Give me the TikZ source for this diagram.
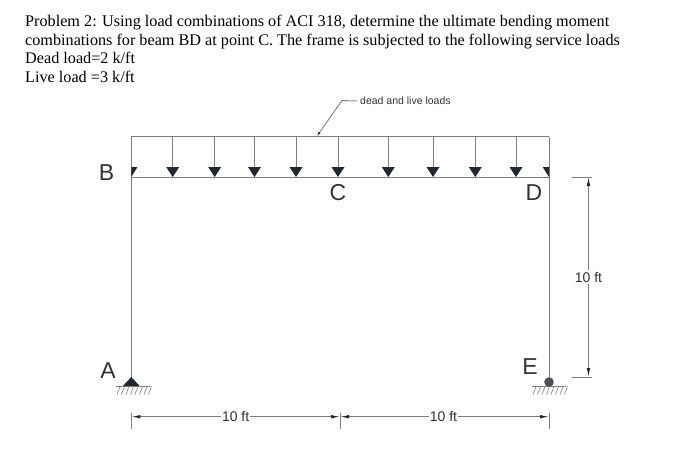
\documentclass[tikz,border=0pt]{standalone}
\usepackage{fontspec}
\setmainfont{Liberation Serif}
\setsansfont{Liberation Sans}
\usetikzlibrary{arrows.meta}
\definecolor{ln}{HTML}{7F7F7F}
\definecolor{ink}{HTML}{1F2730}
\definecolor{lab}{HTML}{333333}
\tikzset{
 x=1pt,y=-1pt,
 prob/.style={anchor=base west,inner sep=0pt,font=\fontsize{16.2}{18}\selectfont,text=black},
 big/.style={inner sep=0pt,font=\sffamily\fontsize{23}{25}\selectfont,text=lab},
 dim/.style={inner sep=1pt,font=\sffamily\fontsize{14}{16}\selectfont,text=lab},
 small/.style={inner sep=0pt,font=\sffamily\fontsize{10.5}{12}\selectfont,text=lab},
 thin gray/.style={draw=ln,line width=0.9pt},
 load/.style={draw=ln,line width=0.9pt},
 head/.style={fill=ink,draw=none},
 dimline/.style={draw=ln,line width=0.9pt,{Latex[length=9pt,width=3.5pt,color=ink]}-{Latex[length=9pt,width=3.5pt,color=ink]}},
 hatch/.style={draw=ln,line width=0.6pt},
}
\newcommand{\loadarrow}[1]{%
 \draw[load] (#1,136.7) -- (#1,168);
 \fill[head] (#1-6.5,167) -- (#1+6.5,167) -- (#1,177) -- cycle;}
\newcommand{\hatchrow}[1]{%
 \draw[hatch] (#1-16,386.5) -- (#1+18,386.5);
 \foreach \k in {0,...,7} \draw[hatch] ({#1-12+\k*4.5},386.5) -- ({#1-15+\k*4.5},394.5);}
\begin{document}
\begin{tikzpicture}
\useasboundingbox (0,0) rectangle (700,467);
\fill[white] (0,0) rectangle (700,467);
\node[prob] (t1) at (25,26) {Problem 2: Using load combinations of ACI 318, determine the ultimate bending moment};
\node[prob] (t2) at (25,45) {combinations for beam BD at point C. The frame is subjected to the following service loads};
\node[prob] (t3) at (25,63.5) {Dead load=2 k/ft};
\node[prob] (t4) at (25,82) {Live load =3 k/ft};
\coordinate (A) at (131.3,377);
\coordinate (B) at (131.3,177);
\coordinate (D) at (549,177);
\coordinate (E) at (549,382);
\coordinate (TL) at (131.3,136.7);
\coordinate (TR) at (549,136.7);
\draw[thin gray] (E) -- (D) -- (B) -- (A);
\draw[thin gray] (TL) -- (TR);
\draw[thin gray] (TL) -- (B);
\draw[thin gray] (TR) -- (D);
\foreach \p in {172.7,214.7,254.5,296,338,388.3,433,475.3,516} {\loadarrow{\p}}
\fill[head] (131.3,167) -- (137.5,167) -- (131.3,177) -- cycle;
\fill[head] (549,167) -- (542.7,167) -- (549,177) -- cycle;
\node[small,anchor=west] (lbl) at (360,101) {dead and live loads};
\coordinate (lk) at (342,100.5);
\coordinate (lt) at (316.7,136.5);
\draw[thin gray,-{Latex[length=5pt,width=2.5pt,color=ink]}] (lbl.west)++(-3,0) -- (lk) -- (lt);
\node[big] (nB) at (106.5,172.5) {B};
\node[big] (nC) at (338,193) {C};
\node[big] (nD) at (534,192.5) {D};
\node[big] (nA) at (108,371) {A};
\node[big] (nE) at (530,367) {E};
\fill[head] (131.3,377) -- (140,386.3) -- (122.6,386.3) -- cycle;
\hatchrow{132}
\hatchrow{548}
\fill[ink!80!white] (E) circle (4.8);
\coordinate (d1) at (131.3,416.7);
\coordinate (d2) at (340,416.7);
\coordinate (d3) at (549,416.7);
\draw[thin gray] (131.3,413) -- (131.3,429);
\draw[thin gray] (340,413) -- (340,429);
\draw[thin gray] (549,413) -- (549,429);
\draw[dimline] (d1) -- node[dim,fill=white] (n1) {10 ft} (d2);
\draw[dimline] (d2) -- node[dim,fill=white,pos=0.495] (n2) {10 ft} (d3);
\coordinate (v1) at (588.5,177);
\coordinate (v2) at (588.5,377);
\draw[thin gray] (572,177) -- (592,177);
\draw[thin gray] (572,377) -- (592,377);
\draw[dimline] (v1) -- (v2);
\fill[white] (574,270) rectangle (603,284);
\node[dim,inner sep=0pt] (n3) at (588.5,277) {10 ft};
\end{tikzpicture}
\end{document}
